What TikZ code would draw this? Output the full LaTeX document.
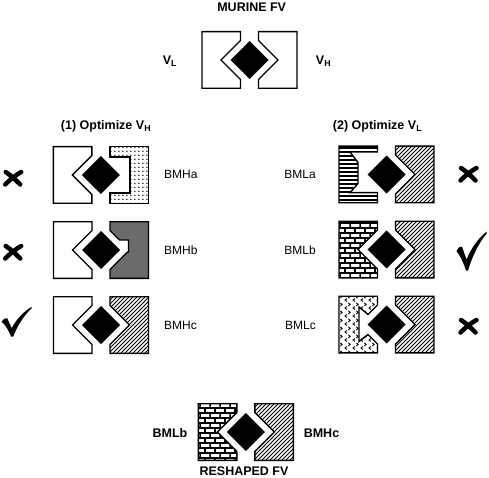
\documentclass[tikz,border=0pt]{standalone}
\usepackage{fontspec}
\setmainfont{Liberation Sans}
\usetikzlibrary{patterns}
\pgfdeclarepatternformonly{mydots}{\pgfqpoint{0pt}{0pt}}{\pgfqpoint{4.2pt}{4.2pt}}{\pgfqpoint{4.2pt}{4.2pt}}{\pgfpathcircle{\pgfqpoint{2.1pt}{2.1pt}}{0.85pt}\pgfusepath{fill}}
\pgfdeclarepatternformonly{myhatch}{\pgfqpoint{-1pt}{-1pt}}{\pgfqpoint{5pt}{5pt}}{\pgfqpoint{4pt}{4pt}}{\pgfsetlinewidth{1pt}\pgfpathmoveto{\pgfqpoint{0pt}{0pt}}\pgfpathlineto{\pgfqpoint{4.1pt}{4.1pt}}\pgfusepath{stroke}}
\pgfdeclarepatternformonly{myhlines}{\pgfqpoint{-1pt}{0pt}}{\pgfqpoint{5pt}{4pt}}{\pgfqpoint{4pt}{4pt}}{\pgfsetlinewidth{1.1pt}\pgfpathmoveto{\pgfqpoint{-1pt}{2pt}}\pgfpathlineto{\pgfqpoint{5pt}{2pt}}\pgfusepath{stroke}}
\pgfdeclarepatternformonly{mybricks}{\pgfqpoint{-0.6pt}{-0.6pt}}{\pgfqpoint{10.6pt}{10.6pt}}{\pgfqpoint{10pt}{10pt}}{\pgfsetlinewidth{1.1pt}%
\pgfpathmoveto{\pgfqpoint{-0.6pt}{0pt}}\pgfpathlineto{\pgfqpoint{10.6pt}{0pt}}%
\pgfpathmoveto{\pgfqpoint{-0.6pt}{5pt}}\pgfpathlineto{\pgfqpoint{10.6pt}{5pt}}%
\pgfpathmoveto{\pgfqpoint{0pt}{0pt}}\pgfpathlineto{\pgfqpoint{0pt}{5pt}}%
\pgfpathmoveto{\pgfqpoint{5pt}{5pt}}\pgfpathlineto{\pgfqpoint{5pt}{10pt}}%
\pgfusepath{stroke}}
\pgfdeclarepatternformonly{mychev}{\pgfqpoint{0pt}{0pt}}{\pgfqpoint{8pt}{8pt}}{\pgfqpoint{8pt}{8pt}}{\pgfsetlinewidth{1pt}%
\pgfpathmoveto{\pgfqpoint{3.2pt}{0.6pt}}\pgfpathlineto{\pgfqpoint{1.2pt}{2.2pt}}\pgfpathlineto{\pgfqpoint{3.2pt}{3.8pt}}%
\pgfpathmoveto{\pgfqpoint{4.8pt}{4.6pt}}\pgfpathlineto{\pgfqpoint{6.8pt}{6.2pt}}\pgfpathlineto{\pgfqpoint{4.8pt}{7.8pt}}%
\pgfusepath{stroke}}
% block shapes, local coordinates (unit centre = origin, y downwards)
\newcommand{\LVblock}[1]{\draw[blk,#1] (-47.5,-28.3) -- (-9,-28.3) -- (-9,-19.5) -- (-28.5,0) -- (-9,19.5) -- (-9,28.3) -- (-47.5,28.3) -- cycle;}
\newcommand{\RVblock}[1]{\draw[blk,#1] (47.5,-28.3) -- (9,-28.3) -- (9,-19.5) -- (28.5,0) -- (9,19.5) -- (9,28.3) -- (47.5,28.3) -- cycle;}
\newcommand{\Cblock}[1]{\draw[blk,#1] (9,-28.3) -- (47.5,-28.3) -- (47.5,28.3) -- (9,28.3) -- (9,18) -- (29,18) -- (29,-18) -- (9,-18) -- cycle;}
\newcommand{\Pblock}[1]{\draw[blk,#1] (9,-28.3) -- (47.5,-28.3) -- (47.5,28.3) -- (9,28.3) -- (9,19.5) -- (26.5,2) -- (27.5,2) -- (27.5,-10) -- (18.5,-10) -- (9,-19.5) -- cycle;}
\newcommand{\Sblock}[1]{\draw[blk,#1] (-47.5,-28.3) -- (-9,-28.3) -- (-9,-22.5) -- (-36.5,-22.5) -- (-28.5,-12) -- (-28.5,9) -- (-36.5,18.2) -- (-9,18.2) -- (-9,28.3) -- (-47.5,28.3) -- cycle;}
\newcommand{\Bblock}[1]{\draw[blk,#1] (-47.5,-28.3) -- (-9,-28.3) -- (-9,-19.5) -- (-18.5,-10) -- (-27.5,-17.5) -- (-27.5,17) -- (-18.5,10) -- (-9,19.5) -- (-9,28.3) -- (-47.5,28.3) -- cycle;}
\newcommand{\Diam}{\fill[black] (0,-19) -- (19,0) -- (0,19) -- (-19,0) -- cycle;}
\newcommand{\Chk}{\fill[black] (0,15) .. controls (2,12) and (4,11) .. (5.5,11.5) -- (10,21.5) .. controls (15,12) and (22,5) .. (30,0) -- (30,1.5) .. controls (23,8) and (16,18) .. (11.5,30) -- (9.5,30) .. controls (7,24) and (4,18.5) .. cycle;}
\newcommand{\Crs}{\draw[black,line width=4.5pt,line cap=round] (4,4) .. controls (10,8) and (14,12) .. (18.5,16.5) (3.5,16.5) .. controls (9,11) and (14,7) .. (19.5,4);}
\begin{document}
\begin{tikzpicture}[x=1pt,y=-1pt,
  blk/.style={draw=black,line width=1.4pt,line join=miter},
  ttl/.style={font=\bfseries\fontsize{12.5}{14}\selectfont,inner sep=0pt,anchor=base},
  lbl/.style={font=\fontsize{12}{14}\selectfont,inner sep=0pt,anchor=base west},
  lblr/.style={font=\fontsize{12}{14}\selectfont,inner sep=0pt,anchor=base east}]
\useasboundingbox[fill=white] (0,0) rectangle (489,478);

% murine FV
\begin{scope}[shift={(249.5,60)}]
  \LVblock{fill=white} \RVblock{fill=white} \Diam
\end{scope}
% optimize VH
\begin{scope}[shift={(100.8,175)}]
  \LVblock{fill=white} \Cblock{pattern=mydots} \Diam
\end{scope}
\begin{scope}[shift={(101,250)}]
  \LVblock{fill=white} \Pblock{fill=black!58} \Diam
\end{scope}
\begin{scope}[shift={(101,325)}]
  \LVblock{fill=white} \RVblock{pattern=myhatch} \Diam
\end{scope}
% optimize VL
\begin{scope}[shift={(386.5,174.5)}]
  \Sblock{pattern=myhlines} \RVblock{pattern=myhatch} \Diam
\end{scope}
\begin{scope}[shift={(386.5,249.5)}]
  \LVblock{pattern=mybricks} \RVblock{pattern=myhatch} \Diam
\end{scope}
\begin{scope}[shift={(386.5,324.5)}]
  \Bblock{pattern=mychev} \RVblock{pattern=myhatch} \Diam
\end{scope}
% reshaped FV
\begin{scope}[shift={(245.8,432)}]
  \LVblock{pattern=mybricks} \RVblock{pattern=myhatch} \Diam
\end{scope}

% marks
\begin{scope}[shift={(1.7,168)}] \Crs \end{scope}
\begin{scope}[shift={(1.7,242)}] \Crs \end{scope}
\begin{scope}[shift={(1.7,306.7)}] \Chk \end{scope}
\begin{scope}[shift={(457,164)}] \Crs \end{scope}
\begin{scope}[shift={(456.5,231.7)},yscale=1.3] \Chk \end{scope}
\begin{scope}[shift={(457,316)}] \Crs \end{scope}

% texts
\node[ttl] (murine) at (251.7,11.7) {MURINE FV};
\node[ttl] (vl) at (170,65) {V\textsubscript{L}};
\node[ttl] (vh) at (323.5,65) {V\textsubscript{H}};
\node[ttl] (opth) at (106,130) {(1) Optimize V\textsubscript{H}};
\node[ttl] (optl) at (377.5,130) {(2) Optimize V\textsubscript{L}};
\node[lbl] (bmha) at (164,179) {BMHa};
\node[lbl] (bmhb) at (164,254) {BMHb};
\node[lbl] (bmhc) at (164,329) {BMHc};
\node[lblr] (bmla) at (316,179) {BMLa};
\node[lblr] (bmlb) at (316,254) {BMLb};
\node[lblr] (bmlc) at (316,329) {BMLc};
\node[ttl] (rbmlb) at (170,437.5) {BMLb};
\node[ttl] (rbmhc) at (321.5,437.5) {BMHc};
\node[ttl] (resh) at (244,475) {RESHAPED FV};
\end{tikzpicture}
\end{document}
